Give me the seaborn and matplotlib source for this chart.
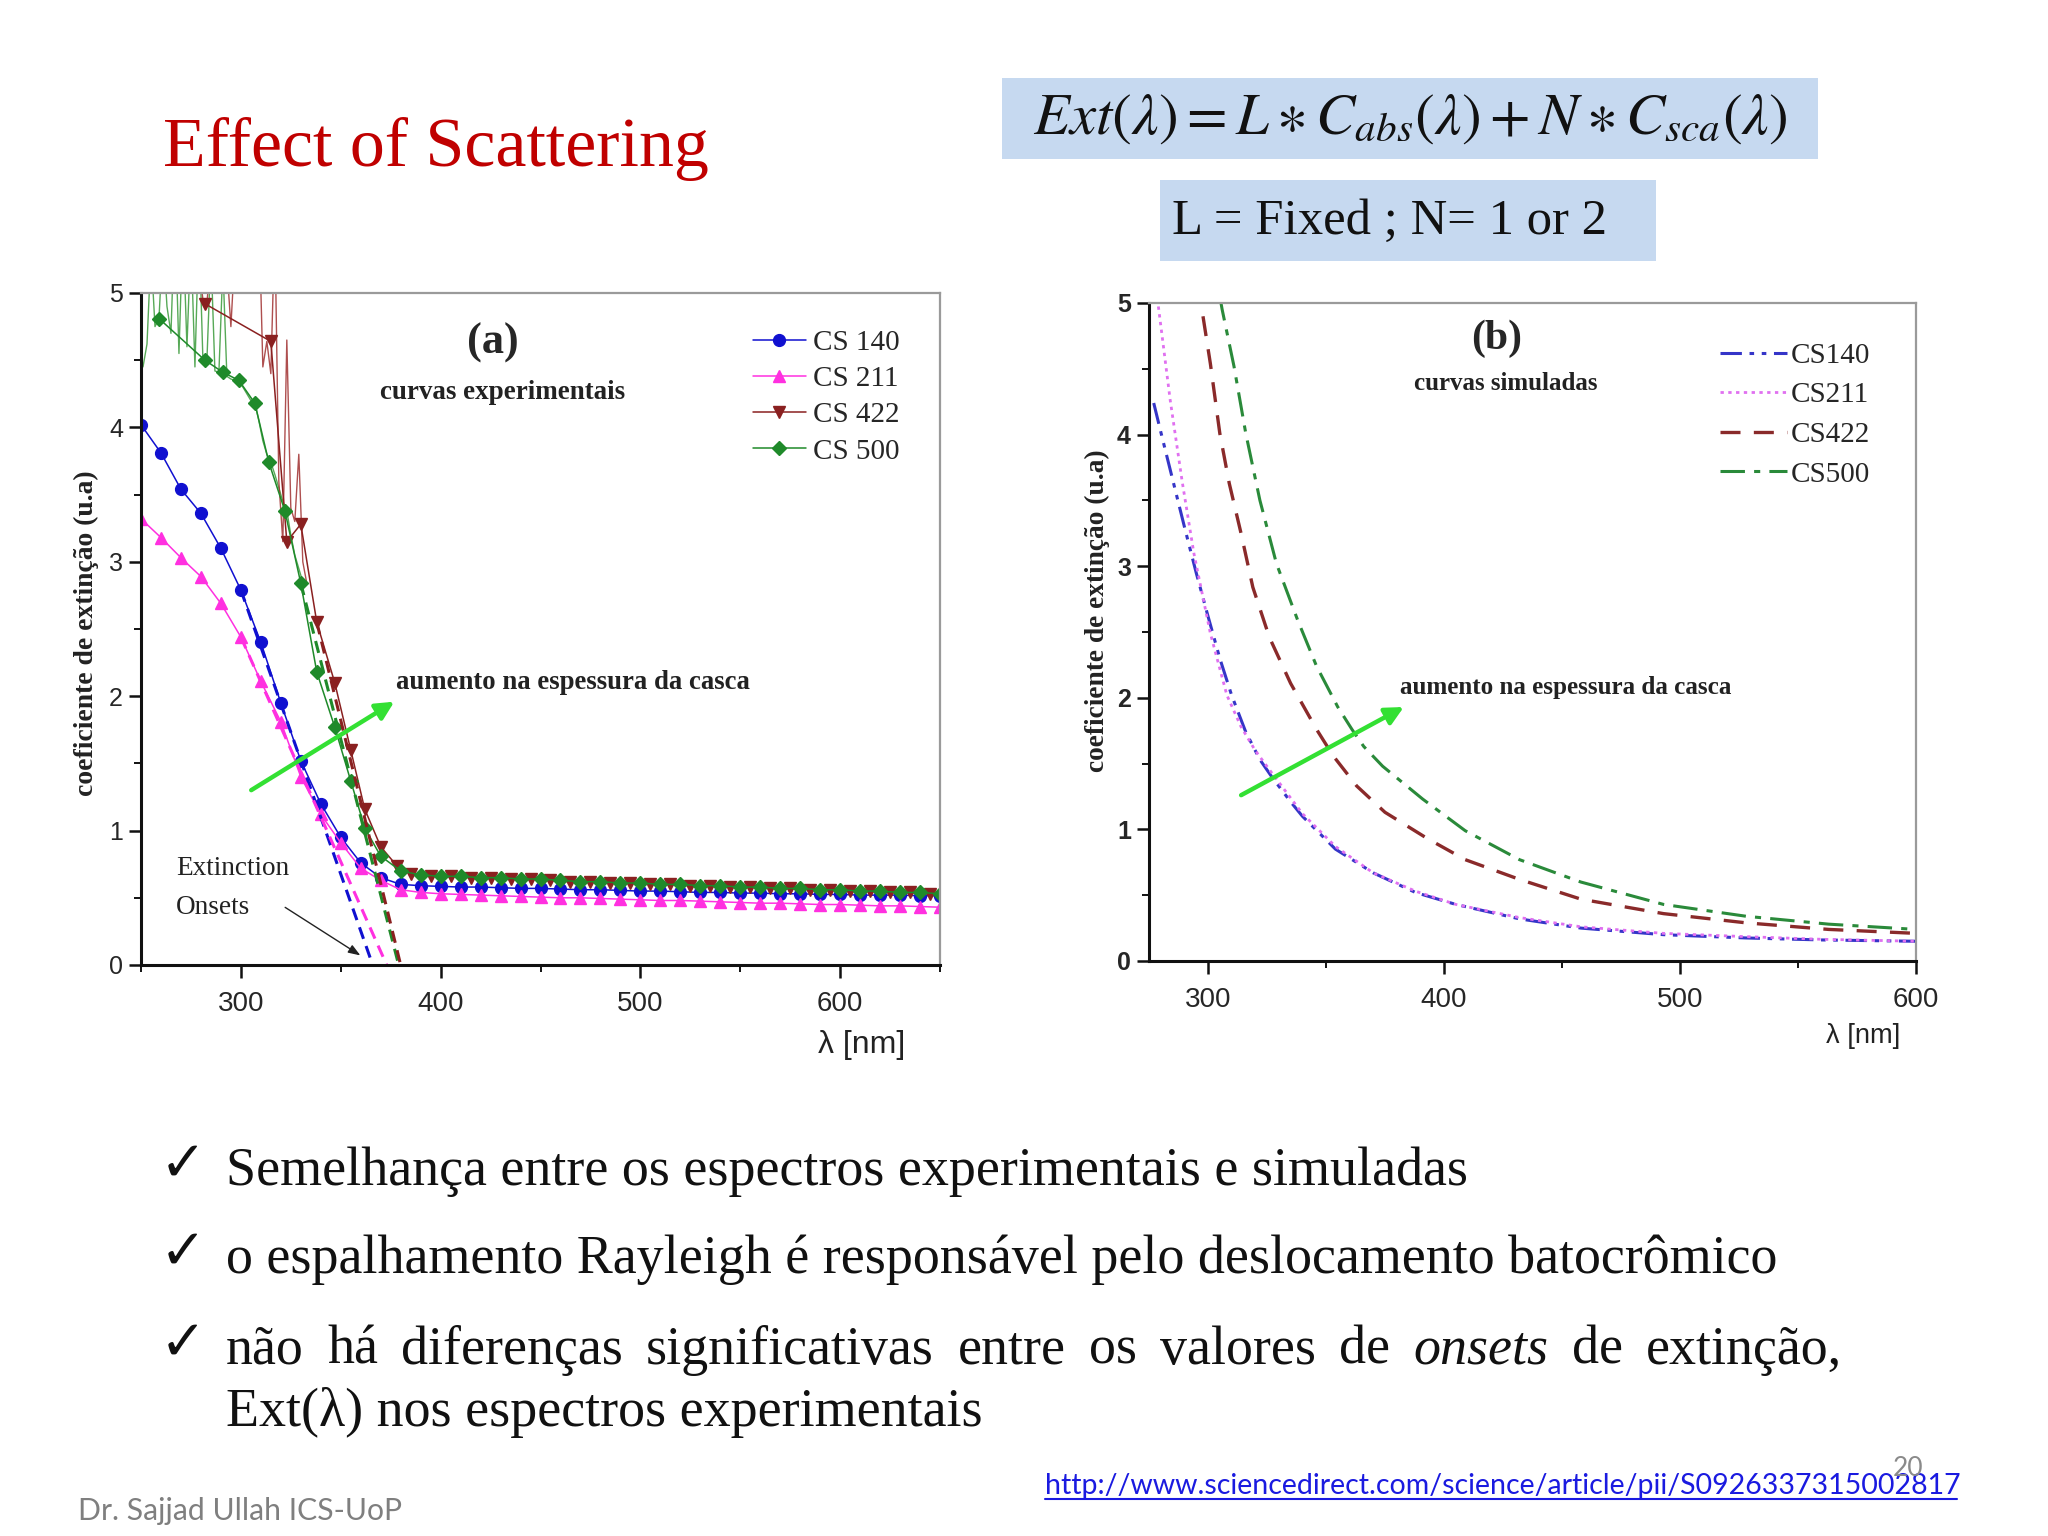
import numpy as np
import pandas as pd
import matplotlib
matplotlib.use("Agg")
import matplotlib.pyplot as plt
import seaborn as sns
from matplotlib.patches import Rectangle
from matplotlib.lines import Line2D
from matplotlib.ticker import MultipleLocator

# ---------------- data: panel (a) experimental ----------------
wl_a = list(range(250, 651, 10))
cs140_a = [4.02, 3.81, 3.54, 3.36, 3.10, 2.79, 2.40, 1.95, 1.52, 1.20, 0.95, 0.76, 0.65, 0.60, 0.59,
           0.585, 0.58, 0.58, 0.575, 0.57, 0.57, 0.565, 0.56, 0.56, 0.555, 0.55, 0.55, 0.545, 0.54,
           0.54, 0.535, 0.535, 0.53, 0.53, 0.525, 0.525, 0.52, 0.52, 0.52, 0.515, 0.515]
cs211_a = [3.32, 3.18, 3.03, 2.89, 2.69, 2.44, 2.11, 1.81, 1.40, 1.12, 0.91, 0.72, 0.63, 0.56, 0.54,
           0.53, 0.525, 0.52, 0.515, 0.51, 0.505, 0.50, 0.50, 0.495, 0.49, 0.485, 0.48, 0.48, 0.475,
           0.47, 0.465, 0.46, 0.46, 0.455, 0.45, 0.45, 0.445, 0.44, 0.44, 0.435, 0.43]
cs500_x = [259, 282, 291, 299, 307, 314, 322, 330, 338, 347, 355, 362, 370, 380, 390,
           400, 410, 420, 430, 440, 450, 460, 470, 480, 490, 500, 510, 520, 530, 540, 550,
           560, 570, 580, 590, 600, 610, 620, 630, 640, 650]
cs500_a = [4.81, 4.50, 4.41, 4.35, 4.18, 3.74, 3.38, 2.84, 2.18, 1.77, 1.37, 1.02, 0.81, 0.70, 0.67,
           0.66, 0.66, 0.65, 0.65, 0.64, 0.64, 0.63, 0.62, 0.62, 0.61, 0.61, 0.60, 0.60, 0.59, 0.59,
           0.58, 0.58, 0.57, 0.57, 0.56, 0.56, 0.55, 0.55, 0.54, 0.54, 0.53]
cs422_x = [282, 315, 323, 330, 338, 347, 355, 362, 370, 378,
           385, 395, 405, 415, 425, 435, 445, 455, 465, 475, 485, 495, 505, 515, 525, 535, 545,
           555, 565, 575, 585, 595, 605, 615, 625, 635, 645]
cs422_a = [4.92, 4.64, 3.15, 3.28, 2.55, 2.10, 1.60, 1.16, 0.88, 0.74,
           0.68, 0.66, 0.66, 0.65, 0.65, 0.64, 0.64, 0.63, 0.62, 0.62, 0.61, 0.61, 0.60, 0.60, 0.59,
           0.59, 0.58, 0.58, 0.57, 0.57, 0.56, 0.56, 0.55, 0.55, 0.54, 0.54, 0.53]
# noisy raw traces in the UV region
cs500_noise_x = [251, 253, 255, 257, 259, 261, 263, 265, 267, 269, 271, 273, 275, 277, 279, 281,
                 283, 285, 287, 289, 291, 293, 295, 297, 299, 301, 303, 305, 307, 309, 311, 313,
                 315, 317, 319, 321, 323, 325, 327, 329, 331]
cs500_noise_y = [4.45, 4.62, 5.30, 4.75, 4.81, 5.40, 4.90, 4.70, 5.60, 4.55, 5.50, 4.60, 5.40, 4.45,
                 5.50, 4.50, 4.50, 5.30, 4.42, 4.41, 5.20, 4.38, 4.36, 4.35, 4.34, 4.30, 4.25, 4.20,
                 4.18, 4.05, 3.90, 3.80, 3.74, 3.65, 3.55, 3.45, 3.38, 3.20, 3.05, 2.95, 2.85]
cs422_noise_x = [265, 267, 269, 271, 273, 275, 277, 279, 281, 283, 285, 287, 289, 291, 293, 295,
                 297, 299, 301, 303, 305, 307, 309, 311, 313, 315, 317, 319, 321, 323, 325, 327,
                 329, 331, 333]
cs422_noise_y = [5.6, 5.5, 5.3, 5.6, 5.4, 5.5, 5.6, 5.2, 4.95, 4.92, 5.3, 5.6, 5.5, 5.4, 5.2, 4.75,
                 5.3, 5.6, 5.4, 5.6, 5.5, 5.2, 5.6, 4.45, 4.64, 4.40, 5.5, 3.6, 3.15, 4.65, 3.4,
                 3.3, 3.8, 3.0, 2.84]
# extinction-onset tangent lines
onset140_x, onset140_y = [300, 366], [2.79, 0.0]
onset211_x, onset211_y = [300, 373], [2.44, 0.0]
onset500_x, onset500_y = [330, 379], [2.84, 0.0]
onset422_x, onset422_y = [338, 380], [2.55, 0.0]

# ---------------- data: panel (b) simulated ----------------
sim140_x = [277, 280, 285, 290, 295, 300, 305, 310, 316, 322, 327, 335, 340, 354, 370, 388, 405, 432, 458, 493, 528, 560, 600]
sim140_y = [4.24, 4.02, 3.66, 3.30, 2.95, 2.62, 2.30, 2.02, 1.74, 1.53, 1.40, 1.21, 1.10, 0.85, 0.67, 0.52, 0.43, 0.32, 0.25, 0.20, 0.175, 0.16, 0.15]
sim211_x = [278, 279, 284, 289, 294, 301, 308, 314, 320, 327, 340, 354, 370, 388, 405, 432, 458, 493, 528, 560, 600]
sim211_y = [5.15, 4.97, 4.26, 3.65, 3.10, 2.49, 2.02, 1.78, 1.60, 1.43, 1.12, 0.87, 0.67, 0.53, 0.43, 0.33, 0.26, 0.21, 0.185, 0.165, 0.15]
sim422_x = [296, 297, 301, 305, 309, 314, 319, 326, 335, 346, 353, 363, 375, 393, 409, 432, 458, 493, 528, 563, 600]
sim422_y = [5.15, 5.0, 4.54, 4.01, 3.63, 3.25, 2.84, 2.46, 2.11, 1.76, 1.56, 1.33, 1.13, 0.93, 0.77, 0.62, 0.47, 0.36, 0.29, 0.24, 0.21]
sim500_x = [305, 306, 311, 316, 322, 329, 338, 346, 355, 361, 366, 374, 391, 409, 432, 458, 493, 528, 563, 600]
sim500_y = [5.05, 4.95, 4.52, 4.01, 3.50, 3.02, 2.59, 2.24, 1.93, 1.76, 1.63, 1.48, 1.23, 0.99, 0.77, 0.60, 0.43, 0.34, 0.28, 0.24]

labels_a = ["CS 140", "CS 211", "CS 422", "CS 500"]
labels_b = ["CS140", "CS211", "CS422", "CS500"]
xticks_a = [300, 400, 500, 600]
xticks_b = [300, 400, 500, 600]
yticks = [0, 1, 2, 3, 4, 5]

# ---------------- style ----------------
sns.set_theme(style="ticks")
plt.rcParams['font.family'] = ['Liberation Serif', 'DejaVu Serif']
plt.rcParams['mathtext.fontset'] = 'stix'
SERIF = ['Liberation Serif', 'DejaVu Serif']
SANS = ['Liberation Sans', 'DejaVu Sans']

C_BLUE = "#1010d0"
C_PINK = "#ff30e0"
C_RED = "#8a2020"
C_GREEN = "#1f8a2a"

fig = plt.figure(figsize=(20.48, 15.36), dpi=100)
fig.patch.set_facecolor("white")
R = fig.canvas.get_renderer()


def fx(x):
    return x / 2048.0


def fy(y):
    return 1.0 - y / 1536.0


def fit(t, target):
    bb = t.get_window_extent(R)
    w = bb.height if abs(t.get_rotation() - 90) < 1 else bb.width
    t.set_fontsize(t.get_fontsize() * target / w)
    return t


def style_axes(ax, xlim, xt, xminor):
    ax.set_xlim(*xlim)
    ax.set_ylim(0, 5)
    ax.set_xticks(xt)
    ax.xaxis.set_minor_locator(MultipleLocator(xminor))
    ax.set_yticks(yticks)
    ax.yaxis.set_minor_locator(MultipleLocator(0.5))
    for s in ["left", "bottom"]:
        ax.spines[s].set_color("#111111")
        ax.spines[s].set_linewidth(2.2)
    for s in ["top", "right"]:
        ax.spines[s].set_visible(True)
        ax.spines[s].set_color("#9a9a9a")
        ax.spines[s].set_linewidth(1.6)
    ax.tick_params(which="major", direction="out", length=9, width=1.8, color="#111111")
    ax.tick_params(which="minor", direction="out", length=5, width=1.4, color="#111111")
    ax.tick_params(axis="x", labelsize=20, pad=10)
    ax.tick_params(axis="y", labelsize=18, pad=4)
    for lab in ax.get_xticklabels() + ax.get_yticklabels():
        lab.set_family(SANS)
    ax.set_xlabel("")
    ax.set_ylabel("")
    ax.set_facecolor("white")
    ax.grid(False)


# ================= panel (a) =================
ax1 = fig.add_axes([141 / 2048, 1 - 965 / 1536, 799 / 2048, 672 / 1536])

sns.lineplot(x=cs500_noise_x, y=cs500_noise_y, ax=ax1, color="#3a9a3a", lw=1.0,
             estimator=None, sort=False, alpha=0.85)
sns.lineplot(x=cs422_noise_x, y=cs422_noise_y, ax=ax1, color="#a03030", lw=1.0,
             estimator=None, sort=False, alpha=0.85)

series_a = [
    (wl_a, cs140_a, C_BLUE, "o", 8.5, labels_a[0]),
    (wl_a, cs211_a, C_PINK, "^", 9, labels_a[1]),
    (cs422_x, cs422_a, C_RED, "v", 8.5, labels_a[2]),
    (cs500_x, cs500_a, C_GREEN, "D", 7.5, labels_a[3]),
]
for xs, ys, col, mk, ms, lab in series_a:
    sns.lineplot(x=xs, y=ys, ax=ax1, color=col, lw=1.1, marker=mk, markersize=ms,
                 markeredgecolor=col, markeredgewidth=1.0, estimator=None, sort=False,
                 label=lab)

for xs, ys, col in [(onset140_x, onset140_y, C_BLUE), (onset211_x, onset211_y, C_PINK),
                    (onset500_x, onset500_y, C_GREEN), (onset422_x, onset422_y, C_RED)]:
    sns.lineplot(x=xs, y=ys, ax=ax1, color=col, lw=2.2, linestyle=(0, (4, 2.5)),
                 estimator=None, sort=False)

style_axes(ax1, (250, 650), xticks_a, 50)

h, l = ax1.get_legend_handles_labels()
leg1 = ax1.legend(h, l, loc="upper left", bbox_to_anchor=(0.766, 0.945), frameon=False,
                  fontsize=21, handlelength=1.8, handletextpad=0.25, labelspacing=0.33,
                  borderpad=0, borderaxespad=0)
for t in leg1.get_texts():
    t.set_family(SERIF)

t = ax1.text(426, 4.63, "(a)", ha="center", va="center", fontweight="bold", fontsize=26, family=SERIF)
fit(t, 52)
t = ax1.text(431, 4.26, "curvas experimentais", ha="center", va="center", fontweight="bold",
             fontsize=14, family=SERIF, color="#222222")
fit(t, 246)
t = ax1.text(377.5, 2.10, "aumento na espessura da casca", ha="left", va="center",
             fontweight="bold", fontsize=14, family=SERIF, color="#222222")
fit(t, 355)
ax1.annotate("", xy=(378, 1.97), xytext=(304, 1.29),
             arrowprops=dict(arrowstyle="-|>,head_length=0.9,head_width=0.45", color="#33e033", lw=3.2))
t1 = ax1.text(267.5, 0.72, "Extinction", ha="left", va="center", fontsize=16, family=SERIF, color="#222222")
fit(t1, 114)
ax1.text(267.5, 0.43, "Onsets", ha="left", va="center", fontsize=t1.get_fontsize(), family=SERIF, color="#222222")
ax1.annotate("", xy=(361, 0.06), xytext=(321, 0.44),
             arrowprops=dict(arrowstyle="-|>,head_length=0.6,head_width=0.22", color="#222222", lw=1.0))

# ================= panel (b) =================
ax2 = fig.add_axes([1149 / 2048, 1 - 961 / 1536, 767 / 2048, 658 / 1536])
series_b = [
    (sim140_x, sim140_y, "#3535c8", (0, (7, 2.5, 1.5, 2.5, 1.5, 2.5)), 2.2, labels_b[0]),
    (sim211_x, sim211_y, "#e070f0", (0, (1.2, 1.6)), 2.0, labels_b[1]),
    (sim422_x, sim422_y, "#8a2a2a", (0, (6, 4)), 2.4, labels_b[2]),
    (sim500_x, sim500_y, "#2a8a3a", (0, (8, 3, 2, 3)), 2.2, labels_b[3]),
]
for xs, ys, col, ls, lw, lab in series_b:
    sns.lineplot(x=xs, y=ys, ax=ax2, color=col, lw=lw, linestyle=ls, estimator=None,
                 sort=False, label=lab)
style_axes(ax2, (275, 600), xticks_b, 50)
for lab in ax2.get_yticklabels():
    lab.set_fontweight("bold")

h, l = ax2.get_legend_handles_labels()
leg2 = ax2.legend(h, l, loc="upper left", bbox_to_anchor=(0.745, 0.94), frameon=False,
                  fontsize=21, handlelength=2.3, handletextpad=0.1, labelspacing=0.45,
                  borderpad=0, borderaxespad=0)
for t in leg2.get_texts():
    t.set_family(SERIF)

t = ax2.text(422.5, 4.73, "(b)", ha="center", va="center", fontweight="bold", fontsize=26, family=SERIF)
fit(t, 51)
t = ax2.text(426, 4.39, "curvas simuladas", ha="center", va="center", fontweight="bold",
             fontsize=14, family=SERIF, color="#222222")
fit(t, 185)
t = ax2.text(381.4, 2.08, "aumento na espessura da casca", ha="left", va="center",
             fontweight="bold", fontsize=14, family=SERIF, color="#222222")
fit(t, 333)
ax2.annotate("", xy=(384, 1.94), xytext=(313, 1.25),
             arrowprops=dict(arrowstyle="-|>,head_length=0.9,head_width=0.45", color="#33e033", lw=3.2))

# axis titles
t = fig.text(fx(862), fy(1045), "λ [nm]", ha="center", va="center", fontsize=22, family=SANS, color="#222222")
fit(t, 87)
t = fig.text(fx(1863), fy(1036), "λ [nm]", ha="center", va="center", fontsize=18, family=SANS, color="#222222")
fit(t, 74)
t = fig.text(fx(86), fy(633), "coeficiente de extinção (u.a)", rotation=90, ha="center", va="center",
             fontsize=14, fontweight="bold", family=SERIF, color="#222222")
fit(t, 326)
t = fig.text(fx(1097), fy(611), "coeficiente de extinção (u.a)", rotation=90, ha="center", va="center",
             fontsize=14, fontweight="bold", family=SERIF, color="#222222")
fit(t, 324)

# ================= slide text =================
t = fig.text(fx(163), fy(166), "Effect of Scattering", ha="left", va="baseline", fontsize=50,
             family=SERIF, color="#c00000")
fit(t, 546)

fig.add_artist(Rectangle((fx(1002), fy(159)), fx(816), 81 / 1536, transform=fig.transFigure,
                         facecolor="#c6d9f0", edgecolor="none", zorder=0))
fig.add_artist(Rectangle((fx(1160), fy(261)), fx(496), 81 / 1536, transform=fig.transFigure,
                         facecolor="#c6d9f0", edgecolor="none", zorder=0))
t = fig.text(fx(1410), fy(120), r"$Ext(\lambda) = L \ast C_{abs}(\lambda) + N \ast C_{sca}(\lambda)$",
             ha="center", va="center", fontsize=34, color="#111111")
fit(t, 755)
t = fig.text(fx(1389), fy(222), "L = Fixed ; N= 1 or 2", ha="center", va="center", fontsize=36,
             family=SERIF, color="#111111")
fit(t, 435)

# bullets
b2 = fig.text(fx(226), fy(1273), "o espalhamento Rayleigh é responsável pelo deslocamento batocrômico",
              ha="left", va="baseline", fontsize=34, family=SERIF, color="#111111")
fit(b2, 1557)
BS = b2.get_fontsize()
fig.text(fx(226), fy(1185), "Semelhança entre os espectros experimentais e simuladas",
         ha="left", va="baseline", fontsize=BS, family=SERIF, color="#111111")
fig.text(fx(226), fy(1426), "Ext(λ) nos espectros experimentais",
         ha="left", va="baseline", fontsize=BS, family=SERIF, color="#111111")
words = [("não", "normal"), ("há", "normal"), ("diferenças", "normal"), ("significativas", "normal"),
         ("entre", "normal"), ("os", "normal"), ("valores", "normal"), ("de", "normal"),
         ("onsets", "italic"), ("de", "normal"), ("extinção,", "normal")]
objs = [fig.text(0, fy(1364), w, ha="left", va="baseline", fontsize=BS, family=SERIF,
                 style=st, color="#111111") for w, st in words]
widths = [o.get_window_extent(R).width for o in objs]
gap = (1842 - 226 - sum(widths)) / (len(objs) - 1)
xpos = 226
for o, w in zip(objs, widths):
    o.set_x(fx(xpos))
    xpos += w + gap
for yb in [1181, 1269, 1360]:
    fig.text(fx(160), fy(yb), "✓", ha="left", va="baseline", fontsize=40, fontweight="bold",
             family=['DejaVu Sans'], color="#111111")

# footer
t = fig.text(fx(78), fy(1520), "Dr. Sajjad Ullah ICS-UoP", ha="left", va="baseline", fontsize=18,
             family=['Lato', 'DejaVu Sans'], color="#7f7f7f")
fit(t, 323)
url = fig.text(fx(1045), fy(1494), "http://www.sciencedirect.com/science/article/pii/S0926337315002817",
               ha="left", va="baseline", fontsize=18, family=['Lato', 'DejaVu Sans'], color="#1a1ae0")
fit(url, 912)
fig.add_artist(Line2D([fx(1045), fx(1957)], [fy(1499), fy(1499)], transform=fig.transFigure,
                      color="#1a1ae0", lw=1.5))
fig.text(fx(1908), fy(1476), "20", ha="center", va="baseline", fontsize=19,
         family=['Lato', 'DejaVu Sans'], color="#8a8a8a")

fig.savefig("out.png", dpi=100, facecolor="white")
